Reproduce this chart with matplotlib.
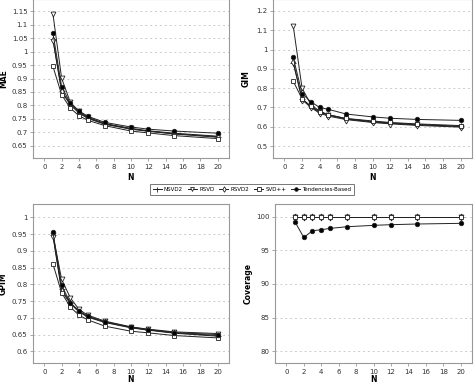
import matplotlib
matplotlib.use("Agg")
from matplotlib import pyplot as plt
from matplotlib.ticker import FormatStrFormatter, MultipleLocator

W, H = 474, 384

N = [1, 2, 3, 4, 5, 7, 10, 12, 15, 20]
methods = ["NSVD2", "RSVD", "RSVD2", "SVD++", "Tendencies-Based"]

# MAE
mae_nsvd2 = [1.045, 0.852, 0.802, 0.772, 0.752, 0.730, 0.712, 0.704, 0.695, 0.684]
mae_rsvd = [1.139, 0.901, 0.812, 0.778, 0.757, 0.733, 0.715, 0.706, 0.697, 0.686]
mae_rsvd2 = [1.044, 0.855, 0.805, 0.775, 0.754, 0.731, 0.713, 0.705, 0.694, 0.682]
mae_svdpp = [0.945, 0.840, 0.790, 0.762, 0.745, 0.725, 0.705, 0.698, 0.688, 0.677]
mae_tend = [1.069, 0.870, 0.808, 0.780, 0.760, 0.737, 0.720, 0.712, 0.705, 0.697]

# GIM
gim_nsvd2 = [0.930, 0.745, 0.705, 0.675, 0.660, 0.640, 0.625, 0.618, 0.610, 0.603]
gim_rsvd = [1.122, 0.800, 0.715, 0.680, 0.662, 0.642, 0.627, 0.620, 0.612, 0.600]
gim_rsvd2 = [0.937, 0.740, 0.700, 0.670, 0.655, 0.637, 0.622, 0.615, 0.607, 0.598]
gim_svdpp = [0.836, 0.745, 0.705, 0.678, 0.662, 0.643, 0.630, 0.622, 0.615, 0.606]
gim_tend = [0.959, 0.772, 0.729, 0.700, 0.690, 0.666, 0.651, 0.644, 0.638, 0.633]

# GPIM
gpim_nsvd2 = [0.948, 0.785, 0.745, 0.720, 0.704, 0.687, 0.671, 0.664, 0.655, 0.647]
gpim_rsvd = [0.948, 0.815, 0.760, 0.725, 0.708, 0.690, 0.673, 0.666, 0.658, 0.653]
gpim_rsvd2 = [0.945, 0.780, 0.742, 0.718, 0.702, 0.686, 0.670, 0.663, 0.654, 0.645]
gpim_svdpp = [0.861, 0.775, 0.732, 0.708, 0.694, 0.675, 0.660, 0.655, 0.647, 0.640]
gpim_tend = [0.955, 0.797, 0.745, 0.720, 0.705, 0.688, 0.672, 0.665, 0.656, 0.650]

# Coverage
cov_nsvd2 = [100, 100, 100, 100, 100, 100, 100, 100, 100, 100]
cov_rsvd = [100, 100, 100, 100, 100, 100, 100, 100, 100, 100]
cov_rsvd2 = [100, 100, 100, 100, 100, 100, 100, 100, 100, 100]
cov_svdpp = [100, 100, 100, 100, 100, 100, 100, 100, 100, 100]
cov_tend = [99.2, 96.9, 97.9, 98.05, 98.25, 98.5, 98.7, 98.8, 98.9, 99.0]

styles = [
    dict(marker="+", mfc="none", ms=4.5),
    dict(marker="v", mfc="white", ms=3.5),
    dict(marker="d", mfc="white", ms=3.5),
    dict(marker="s", mfc="white", ms=3.5),
    dict(marker="o", mfc="black", ms=3.2),
]


def px_axes(fig, left, right, top, bottom):
    return fig.add_axes([left / W, 1 - bottom / H, (right - left) / W, (bottom - top) / H])


def panel(ax, series, ylabel, ylim, ystep, ylab_px, xlab_px):
    for vals, name, st in zip(series, methods, styles):
        ax.plot(N, vals, color="#222222", lw=0.7, mec="#222222", mew=0.6, label=name, **st)
    ax.set_xlim(-1.3, 21.3)
    ax.set_ylim(*ylim)
    ax.xaxis.set_major_locator(MultipleLocator(2))
    ax.yaxis.set_major_locator(MultipleLocator(ystep))
    ax.yaxis.set_major_formatter(FormatStrFormatter("%g"))
    ax.grid(axis="y", ls=(0, (2, 3)), color="#cccccc", lw=0.7)
    ax.set_axisbelow(True)
    for s in ax.spines.values():
        s.set_color("#999999")
        s.set_linewidth(0.8)
    ax.tick_params(axis="both", labelsize=5, colors="#333333", length=2.5, width=0.6, pad=1.5)
    ax.tick_params(axis="x", length=2, color="#999999", pad=2)
    ax.tick_params(axis="y", color="#999999")
    pos = ax.get_position()
    w_px, h_px = pos.width * W, pos.height * H
    ax.set_xlabel("N", fontsize=5.5, fontweight="bold")
    ax.set_ylabel(ylabel, fontsize=5.5, fontweight="bold")
    ax.yaxis.set_label_coords(ylab_px / w_px, 0.5)
    ax.xaxis.set_label_coords(0.5, xlab_px / h_px)


fig = plt.figure(figsize=(W / 100, H / 100), dpi=100)

ax1 = px_axes(fig, 33, 229, -1, 158)
panel(ax1, [mae_nsvd2, mae_rsvd, mae_rsvd2, mae_svdpp, mae_tend], "MAE", (0.605, 1.195), 0.05, -25, -15.5)

ax2 = px_axes(fig, 273, 472, -1, 158)
panel(ax2, [gim_nsvd2, gim_rsvd, gim_rsvd2, gim_svdpp, gim_tend], "GIM", (0.438, 1.262), 0.1, -22, -15.5)

ax3 = px_axes(fig, 33, 229, 204, 363)
panel(ax3, [gpim_nsvd2, gpim_rsvd, gpim_rsvd2, gpim_svdpp, gpim_tend], "GPIM", (0.565, 1.04), 0.05, -25, -11.5)

ax4 = px_axes(fig, 275, 472, 204, 363)
panel(ax4, [cov_nsvd2, cov_rsvd, cov_rsvd2, cov_svdpp, cov_tend], "Coverage", (78.27, 101.87), 5, -22, -11.5)

handles, labels = ax1.get_legend_handles_labels()
leg = fig.legend(handles, labels, loc="center", bbox_to_anchor=(252 / W, 1 - 189.5 / H),
                 ncol=5, fontsize=4, frameon=True, fancybox=False, handlelength=1.6,
                 columnspacing=0.9, handletextpad=0.4, borderpad=0.5, markerscale=0.8)
leg.get_frame().set_edgecolor("#555555")
leg.get_frame().set_linewidth(0.7)

fig.savefig("out.png", dpi=100)
